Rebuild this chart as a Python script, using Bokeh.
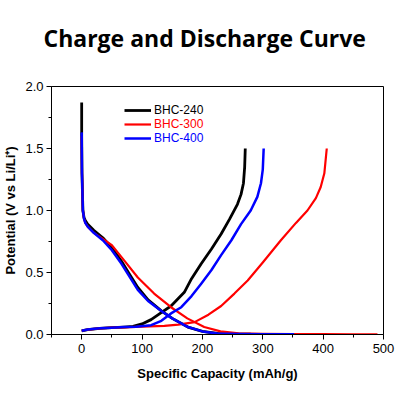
from bokeh.plotting import figure
from bokeh.models import Range1d, FixedTicker, Legend, LegendItem, Title
from bokeh.embed import file_html
from bokeh.resources import INLINE

# --- data ---
chart_title = "Charge and Discharge Curve"
series_names = ["BHC-240", "BHC-300", "BHC-400"]
series_colors = ["#000000", "#ff0000", "#0000ff"]

# discharge (falling) curves
dis_240_cap = [0, 0, 0.5, 2, 4, 6, 10, 20, 35, 50, 66, 80, 93, 110, 132, 150, 176, 200, 225, 250, 280]
dis_240_v = [1.87, 1.6, 1.3, 1.0, 0.94, 0.92, 0.89, 0.84, 0.78, 0.70, 0.59, 0.48, 0.38, 0.28, 0.19, 0.13, 0.06, 0.025, 0.008, 0.004, 0.003]
dis_300_cap = [0, 0.5, 2, 4, 6, 10, 20, 35, 50, 70, 93, 120, 148, 175, 203, 230, 260, 300, 350, 400, 450, 490]
dis_300_v = [1.6, 1.3, 1.0, 0.93, 0.9, 0.87, 0.82, 0.77, 0.72, 0.6, 0.46, 0.33, 0.22, 0.13, 0.06, 0.025, 0.01, 0.006, 0.004, 0.003, 0.002, 0.002]
dis_400_cap = [0, 0.5, 2, 4, 6, 10, 20, 35, 50, 66, 80, 93, 110, 132, 150, 176, 200, 225, 260, 300, 352]
dis_400_v = [1.63, 1.3, 1.0, 0.93, 0.9, 0.87, 0.82, 0.76, 0.68, 0.57, 0.46, 0.36, 0.27, 0.19, 0.13, 0.06, 0.025, 0.008, 0.004, 0.003, 0.002]

# charge (rising) curves
chg_240_cap = [0, 10, 30, 50, 70, 85, 100, 115, 130, 148, 170, 182, 198, 215, 231, 245, 258, 264, 268, 270, 271]
chg_240_v = [0.03, 0.04, 0.05, 0.055, 0.06, 0.065, 0.085, 0.12, 0.17, 0.23, 0.34, 0.45, 0.57, 0.69, 0.81, 0.93, 1.05, 1.13, 1.22, 1.35, 1.5]
chg_300_cap = [0, 10, 30, 50, 70, 100, 137, 160, 187, 210, 231, 253, 275, 300, 330, 355, 374, 388, 396, 402, 406]
chg_300_v = [0.03, 0.04, 0.05, 0.055, 0.058, 0.063, 0.07, 0.08, 0.1, 0.16, 0.23, 0.33, 0.435, 0.58, 0.76, 0.9, 1.0, 1.1, 1.19, 1.3, 1.5]
chg_400_cap = [0, 10, 30, 50, 70, 90, 115, 132, 148, 165, 182, 198, 215, 231, 248, 264, 280, 291, 297, 300, 301.5]
chg_400_v = [0.03, 0.04, 0.05, 0.055, 0.06, 0.063, 0.075, 0.11, 0.17, 0.22, 0.31, 0.41, 0.52, 0.64, 0.76, 0.89, 1.0, 1.11, 1.22, 1.33, 1.5]

x_ticks = [0, 100, 200, 300, 400, 500]
y_ticks = [0.0, 0.5, 1.0, 1.5, 2.0]
x_minor = [-50, 50, 150, 250, 350, 450]
y_minor = [0.25, 0.75, 1.25, 1.75]

p = figure(width=400, height=400, output_backend="svg", toolbar_location=None,
           x_range=Range1d(-50, 500), y_range=Range1d(0, 2.0))
p.min_border_left = 50
p.min_border_right = 17
p.min_border_top = 86
p.min_border_bottom = 66

# spacer (nearest the frame) then the main title above it
spacer = Title(text=" ", text_font_size="1px", standoff=28)
p.add_layout(spacer, "above")
main_title = Title(text=chart_title, text_font="Open Sans", text_font_size="23px",
                   text_font_style="bold", text_color="black", align="left",
                   offset=-8, standoff=4)
p.add_layout(main_title, "above")

p.grid.visible = False
p.outline_line_color = "black"
p.outline_line_alpha = 1
p.outline_line_width = 1
p.background_fill_color = "white"
p.border_fill_color = "white"

for ax in (p.xaxis[0], p.yaxis[0]):
    ax.axis_line_color = "black"
    ax.major_tick_line_color = "black"
    ax.minor_tick_line_color = "black"
    ax.major_tick_in = 0
    ax.major_tick_out = 5
    ax.minor_tick_in = 0
    ax.minor_tick_out = 3
    ax.major_label_text_font = "Liberation Sans"
    ax.major_label_text_font_size = "13px"
    ax.major_label_text_color = "black"
    ax.axis_label_text_font = "Liberation Sans"
    ax.axis_label_text_font_size = "13px"
    ax.axis_label_text_font_style = "bold"
    ax.axis_label_text_color = "black"

p.xaxis.ticker = FixedTicker(ticks=x_ticks, minor_ticks=x_minor)
p.yaxis.ticker = FixedTicker(ticks=y_ticks, minor_ticks=y_minor)
p.xaxis.major_label_overrides = {t: f"{t}" for t in x_ticks}
p.yaxis.major_label_overrides = {t: f"{t:.1f}" for t in y_ticks}
p.xaxis.axis_label = "Specific Capacity (mAh/g)"
p.yaxis.axis_label = "Potential (V vs Li/Li\u207a)"
p.xaxis.major_label_standoff = 4
p.yaxis.major_label_standoff = 3
p.xaxis.axis_label_standoff = 10
p.yaxis.axis_label_standoff = 4

dis = [(dis_240_cap, dis_240_v), (dis_300_cap, dis_300_v), (dis_400_cap, dis_400_v)]
chg = [(chg_240_cap, chg_240_v), (chg_300_cap, chg_300_v), (chg_400_cap, chg_400_v)]
widths = [2.8, 2.2, 2.5]
renderers = []
for (dx, dy), (cx, cy), col, w in zip(dis, chg, series_colors, widths):
    r = p.line(dx, dy, line_color=col, line_width=w, line_join="round")
    p.line(cx, cy, line_color=col, line_width=w, line_join="round")
    renderers.append(r)

legend_bottoms = [217, 203, 189]
for name, col, r, yb in zip(series_names, series_colors, renderers, legend_bottoms):
    lg = Legend(items=[LegendItem(label=name, renderers=[r])], location=(73, yb),
                label_text_color=col, label_text_font="Liberation Sans",
                label_text_font_size="12px", glyph_width=27, glyph_height=14,
                label_height=14, label_standoff=3, padding=0, margin=0, spacing=0,
                border_line_alpha=0, background_fill_alpha=0)
    p.add_layout(lg, "center")

open("out.html", "w").write(file_html(p, INLINE))
